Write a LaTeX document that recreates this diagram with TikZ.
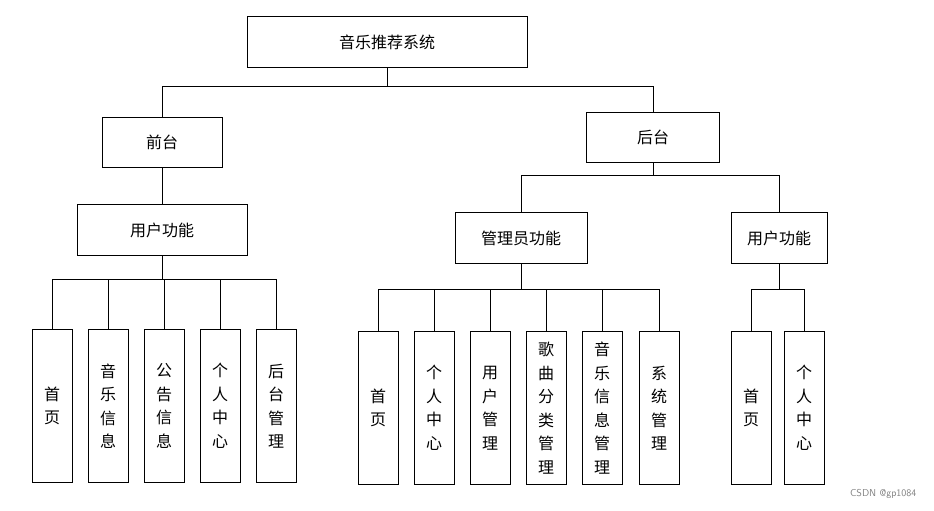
\documentclass[tikz,border=0pt]{standalone}
\usepackage{fontspec}
\newfontfamily\cjk{Noto Sans CJK SC}
\usetikzlibrary{positioning}

\begin{document}
\begin{tikzpicture}[x=1pt,y=-1pt,
    box/.style={draw=black,thin,fill=white,font=\cjk\fontsize{16}{18}\selectfont,inner sep=0pt},
    leaf/.style={draw=black,thin,fill=white,font=\cjk\fontsize{16}{23.5}\selectfont,
        align=center,minimum width=40pt,minimum height=153pt,inner sep=0pt},
    link/.style={draw=black,thick}]
    \useasboundingbox (0,0) rectangle (934,511);

    % Top levels
    \node[box,minimum width=280pt,minimum height=51pt] (root) at (387,42) {音乐推荐系统};
    \node[box,minimum width=120pt,minimum height=50pt] (front) at (162,142) {前台};
    \node[box,minimum width=133pt,minimum height=50pt] (back) at (653,137) {后台};
    \node[box,minimum width=170pt,minimum height=51pt] (fuser) at (162,230) {用户功能};
    \node[box,minimum width=132pt,minimum height=51pt] (admin) at (521,238) {管理员功能};
    \node[box,minimum width=96pt,minimum height=51pt] (buser) at (779,238) {用户功能};

    % Leaves
    \node[leaf] (f1) at (52,406) {首\\页};
    \node[leaf] (f2) at (108,406) {音\\乐\\信\\息};
    \node[leaf] (f3) at (164,406) {公\\告\\信\\息};
    \node[leaf] (f4) at (220,406) {个\\人\\中\\心};
    \node[leaf] (f5) at (276,406) {后\\台\\管\\理};
    \node[leaf] (a1) at (378,408) {首\\页};
    \node[leaf] (a2) at (434,408) {个\\人\\中\\心};
    \node[leaf] (a3) at (490,408) {用\\户\\管\\理};
    \node[leaf] (a4) at (546,408) {歌\\曲\\分\\类\\管\\理};
    \node[leaf] (a5) at (602,408) {音\\乐\\信\\息\\管\\理};
    \node[leaf] (a6) at (659,408) {系\\统\\管\\理};
    \node[leaf] (u1) at (751,408) {首\\页};
    \node[leaf] (u2) at (804,408) {个\\人\\中\\心};

    % The lines
    \draw[link] (root.south) -- ++(0,19) -| (front.north);
    \draw[link] (root.south) -- ++(0,19) -| (back.north);
    \draw[link] (front) -- (fuser);
    \draw[link] (back.south) -- ++(0,13) -| (admin.north);
    \draw[link] (back.south) -- ++(0,13) -| (buser.north);
    \foreach \n in {f1,f2,f3,f4,f5}
        \draw[link] (fuser.south) -- ++(0,24) -| (\n.north);
    \foreach \n in {a1,a2,a3,a4,a5,a6}
        \draw[link] (admin.south) -- ++(0,26) -| (\n.north);
    \foreach \n in {u1,u2}
        \draw[link] (buser.south) -- ++(0,26) -| (\n.north);

    \node[font=\sffamily\fontsize{10}{11}\selectfont,text=gray,anchor=east] (mark) at (920,494) {CSDN @gp1084};
\end{tikzpicture}
\end{document}
